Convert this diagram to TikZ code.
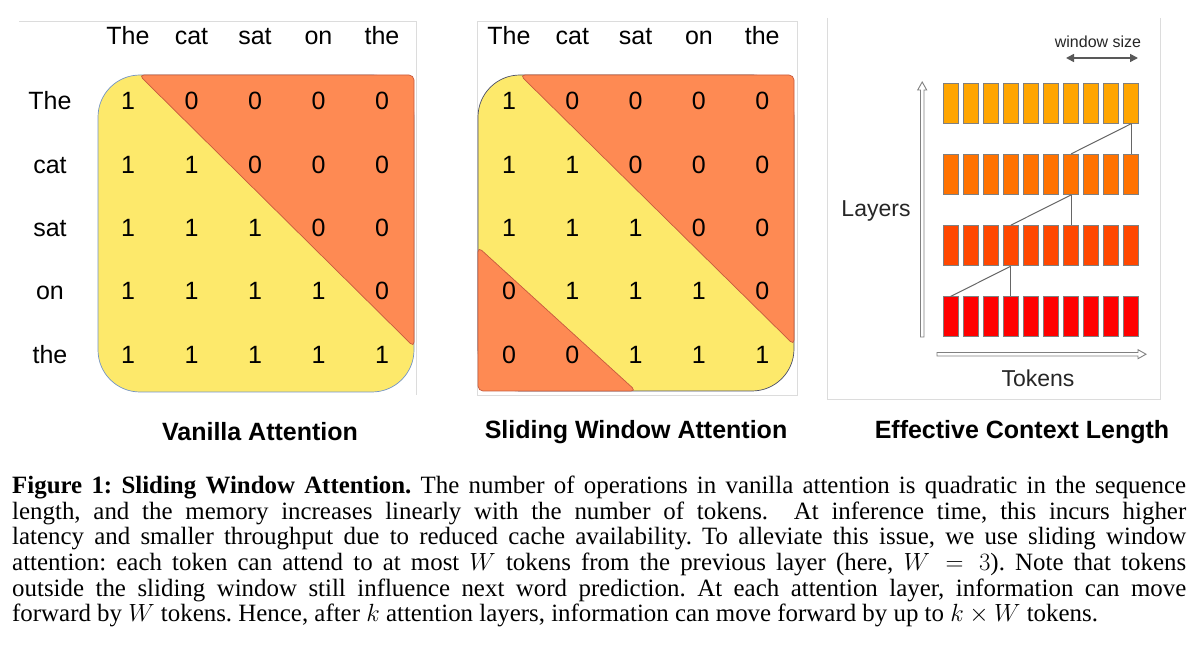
\documentclass[tikz,border=0pt]{standalone}
\usepackage{fontspec}
\setmainfont{Liberation Serif}
\setsansfont{Liberation Sans}
\usepackage{tikz}
\usetikzlibrary{arrows.meta,positioning}

\definecolor{cellyel}{HTML}{FDE96B}
\definecolor{cellora}{HTML}{FE8A53}
\definecolor{oraedge}{HTML}{C65A3E}
\definecolor{yeledge}{HTML}{7394C6}
\definecolor{yeledgeB}{HTML}{4A4E69}
\definecolor{tokA}{HTML}{FFA500}
\definecolor{tokB}{HTML}{FF7200}
\definecolor{tokC}{HTML}{FF4700}
\definecolor{tokD}{HTML}{FF0000}
\definecolor{framegray}{HTML}{DCDCDC}

\begin{document}
\begin{tikzpicture}[x=1pt,y=-1pt,
  lab/.style ={font=\sffamily\fontsize{25}{28}\selectfont,inner sep=0pt,anchor=base},
  cell/.style={font=\sffamily\fontsize{25}{28}\selectfont,inner sep=0pt,anchor=base},
  ttl/.style ={font=\sffamily\bfseries\fontsize{25}{28}\selectfont,inner sep=0pt},
  axlab/.style={font=\sffamily\fontsize{23}{26}\selectfont,inner sep=0pt,text=black!85},
  wlab/.style={font=\sffamily\fontsize{16}{18}\selectfont,inner sep=0pt,text=black!85},
  yel/.style ={fill=cellyel,line width=0.7pt,rounded corners=42pt},
  ora/.style ={fill=cellora,draw=oraedge,line width=0.7pt,rounded corners=5pt},
  tok/.style ={rectangle,draw=black!50,line width=1pt,minimum width=15pt,
               minimum height=40pt,inner sep=0pt},
  link/.style={black!60,line width=1pt},
  warr/.style={{Triangle[length=8pt,width=8pt]}-{Triangle[length=8pt,width=8pt]},
               black!65,line width=1.6pt},
  hollow/.style={draw=black!50,fill=white,line width=0.9pt},
  frame/.style={framegray,line width=0.8pt},
  capt/.style={text width=1174pt,align=justify,inner sep=0pt,
               font=\fontsize{24.9}{25.6}\selectfont\frenchspacing},
]
\useasboundingbox (0,0) rectangle (1200,660);

%% ─── Vanilla attention ───────────────────────────────────────────────────────
\draw[frame] (19,21) -- (416,21) -- (416,395);
\draw[yel,draw=yeledge] (98,75) rectangle (414,392);
\draw[ora] (139,75) -- (414,75) -- (414,347) -- cycle;

\foreach \i/\w in {0/The,1/cat,2/sat,3/on,4/the} {
  \node[lab] (vc\i) at ({128+63.5*\i},45) {\w};
  \node[lab] (vr\i) at (50,{110+63.3*\i}) {\w};
}
\foreach \r in {0,...,4}
  \foreach \c in {0,...,4} {
    \pgfmathtruncatemacro\v{\c<\r+1 ? 1 : 0}
    \node[cell] (v\r-\c) at ({128+63.5*\c},{110+63.3*\r}) {\v};
  }
\node[ttl] (vttl) at (260,432) {Vanilla Attention};

%% ─── Sliding window attention ────────────────────────────────────────────────
\draw[frame] (477,21) rectangle (797,395);
\draw[yel,draw=yeledgeB] (478,75) rectangle (794,391);
\draw[ora] (520,75) -- (794,75) -- (794,345) -- cycle;
\draw[ora] (478,247) -- (478,391) -- (636,391) -- cycle;

\foreach \i/\w in {0/The,1/cat,2/sat,3/on,4/the}
  \node[lab] (sc\i) at ({509+63.3*\i},45) {\w};
\foreach \r in {0,...,4}
  \foreach \c in {0,...,4} {
    \pgfmathtruncatemacro\v{and(\c<\r+1,\r-\c<3) ? 1 : 0}
    \node[cell] (s\r-\c) at ({509+63.3*\c},{110+63.3*\r}) {\v};
  }
\node[ttl] (sttl) at (636,432) {Sliding Window Attention};

%% ─── Effective context length ────────────────────────────────────────────────
\draw[frame] (827,18) -- (827,399) -- (1160,399) -- (1160,18);

\foreach \r/\col in {0/tokD,1/tokC,2/tokB,3/tokA}
  \foreach \c in {0,...,9}
    \node[tok,fill=\col] (t\r-\c) at ({950.5+20.1*\c},{317-71.3*\r}) {};

\draw[link] (t3-9.south) -- (t2-6.north);
\draw[link] (t3-9.south) -- (t2-9.north);
\draw[link] (t2-6.south) -- (t1-3.north);
\draw[link] (t2-6.south) -- (t1-6.north);
\draw[link] (t1-3.south) -- (t0-0.north);
\draw[link] (t1-3.south) -- (t0-3.north);

\node[wlab] (wsz) at (1098,42) {window size};
\coordinate (wL) at (1066,58);
\coordinate (wR) at (1138,58);
\draw[warr] (wL) -- (wR);

% hollow axis arrows
\draw[hollow] (920.5,337) -- (920.5,90) -- (917.7,90) -- (922.2,82)
  -- (926.7,90) -- (924,90) -- (924,337) -- cycle;
\draw[hollow] (937,352.5) -- (1138,352.5) -- (1138,349.7) -- (1146,354.2)
  -- (1138,358.7) -- (1138,356) -- (937,356) -- cycle;
\node[axlab] (lay) at (876,211) {Layers};
\node[axlab] (tks) at (1038,378) {Tokens};

\node[ttl] (ettl) at (1022,432) {Effective Context Length};

%% ─── Caption ─────────────────────────────────────────────────────────────────
\node[capt,anchor=north west] (cap) at (12,476) {\textbf{Figure 1: Sliding Window Attention.}
The number of operations in vanilla attention is quadratic in the sequence\linebreak
length, and the memory increases linearly with the number of tokens.\ \ At inference time, this incurs higher\linebreak
latency and smaller throughput due to reduced cache availability. To alleviate this issue, we use sliding window\linebreak
attention: each token can attend to at most $W$ tokens from the previous layer (here, $W=3$). Note that tokens\linebreak
outside the sliding window still influence next word prediction. At each attention layer, information can move\linebreak
forward by $W$ tokens. Hence, after $k$ attention layers, information can move forward by up to $k\times W$ tokens.};

\end{tikzpicture}
\end{document}
